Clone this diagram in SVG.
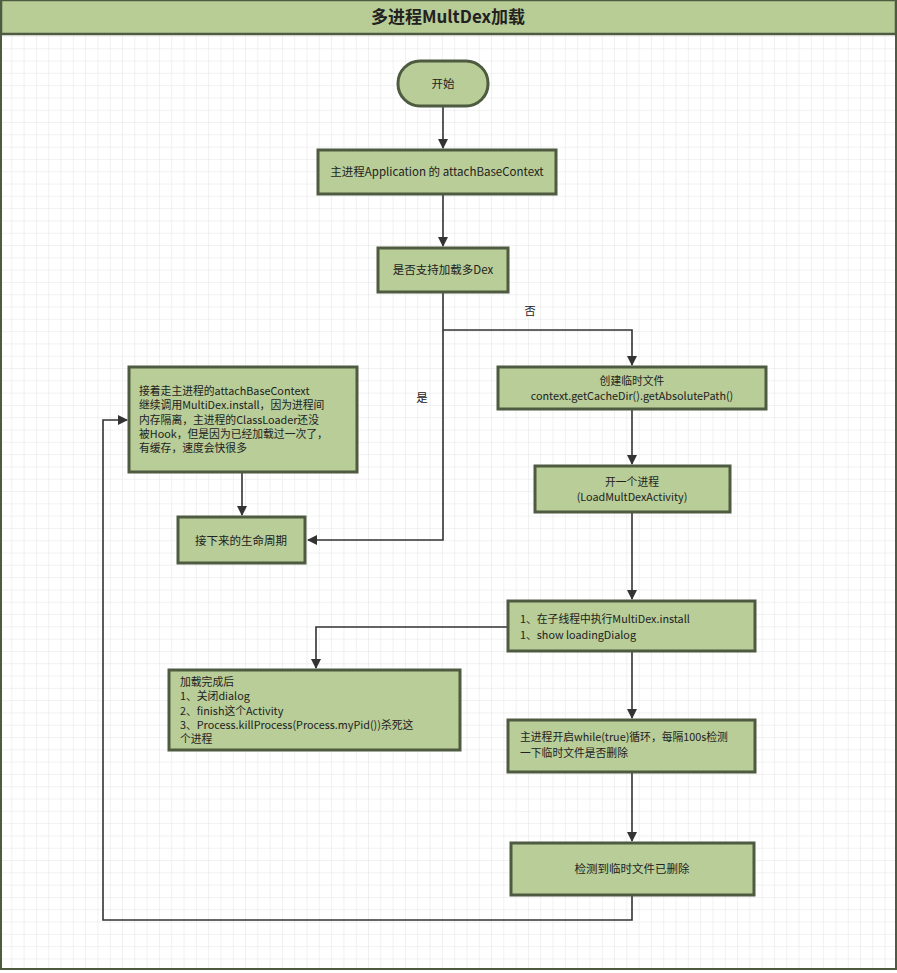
<svg xmlns="http://www.w3.org/2000/svg" width="897" height="973" viewBox="0 0 897 973">
<style>
.n{fill:#b8cd97;stroke:#4e5b40;stroke-width:3}
.t{font-family:"Noto Sans CJK SC",sans-serif;font-size:11.5px;fill:#222}
.m{font-size:10.8px}
.c{text-anchor:middle}
.e{fill:none;stroke:#333;stroke-width:1.6}
</style>
<defs>
<pattern id="g" width="12.3" height="12.3" patternUnits="userSpaceOnUse"><path d="M12.3 0V12.3H0" fill="none" stroke="#e3e3e3" stroke-width="1"/></pattern>
<marker id="a" markerWidth="10" markerHeight="10" refX="9" refY="5" orient="auto" markerUnits="userSpaceOnUse"><path d="M0 0L10 5L0 10z" fill="#333"/></marker>
</defs>
<rect width="897" height="973" fill="#fff"/>
<rect x="0" y="34" width="897" height="936" fill="url(#g)"/>
<rect x="1" y="1" width="895" height="968" fill="none" stroke="#4e5b40" stroke-width="2"/>
<g id="title"><rect x="1" y="0" width="895" height="34" fill="#b8cc96" stroke="#4e5b40" stroke-width="2.5"/><text x="448" y="23" class="t c" style="font-size:17px;font-weight:bold">多进程MultDex加载</text></g>
<g id="edges">
<path class="e" d="M443 106V148" marker-end="url(#a)"/>
<path class="e" d="M443 194V246" marker-end="url(#a)"/>
<path class="e" d="M443 292V540H308" marker-end="url(#a)"/>
<path class="e" d="M443 330H632V365" marker-end="url(#a)"/>
<path class="e" d="M632 409V464" marker-end="url(#a)"/>
<path class="e" d="M632 512V599" marker-end="url(#a)"/>
<path class="e" d="M508 627H316V668" marker-end="url(#a)"/>
<path class="e" d="M632 651V718" marker-end="url(#a)"/>
<path class="e" d="M632 772V841" marker-end="url(#a)"/>
<path class="e" d="M632 895V920H103V420H127" marker-end="url(#a)"/>
<path class="e" d="M242 472V515" marker-end="url(#a)"/>
<text x="530" y="315" class="t c">否</text>
<text x="422" y="402" class="t c">是</text>
</g>
<g id="start"><rect x="398" y="61" width="90" height="45" rx="22" class="n"/><text x="443" y="88" class="t c">开始</text></g>
<g id="app"><rect x="318" y="150" width="238" height="44" class="n"/><text x="437" y="176" class="t c">主进程Application 的 attachBaseContext</text></g>
<g id="support"><rect x="378" y="248" width="130" height="44" class="n"/><text x="443" y="274" class="t c">是否支持加载多Dex</text></g>
<g id="tmp"><rect x="498" y="367" width="268" height="42" class="n"/><text x="632" y="385" class="t c m">创建临时文件</text><text x="632" y="400" class="t c m">context.getCacheDir().getAbsolutePath()</text></g>
<g id="proc"><rect x="535" y="466" width="195" height="46" class="n"/><text x="632" y="486" class="t c m">开一个进程</text><text x="632" y="501" class="t c m">(LoadMultDexActivity)</text></g>
<g id="child"><rect x="508" y="601" width="247" height="50" class="n"/><text x="520" y="623" class="t m">1、在子线程中执行MultiDex.install</text><text x="520" y="639" class="t m">1、show loadingDialog</text></g>
<g id="done"><rect x="169" y="670" width="291" height="80" class="n"/><text class="t m"><tspan x="180" y="686">加载完成后</tspan><tspan x="180" y="700">1、关闭dialog</tspan><tspan x="180" y="715">2、finish这个Activity</tspan><tspan x="180" y="729">3、Process.killProcess(Process.myPid())杀死这</tspan><tspan x="180" y="743">个进程</tspan></text></g>
<g id="loop"><rect x="508" y="720" width="247" height="52" class="n"/><text x="520" y="741" class="t m">主进程开启while(true)循环，每隔100s检测</text><text x="520" y="757" class="t m">一下临时文件是否删除</text></g>
<g id="deleted"><rect x="511" y="843" width="243" height="52" class="n"/><text x="632" y="873" class="t c">检测到临时文件已删除</text></g>
<g id="cont"><rect x="129" y="367" width="228" height="105" class="n"/><text class="t m"><tspan x="139" y="395">接着走主进程的attachBaseContext</tspan><tspan x="139" y="409">继续调用MultiDex.install，因为进程间</tspan><tspan x="139" y="424">内存隔离，主进程的ClassLoader还没</tspan><tspan x="139" y="438">被Hook，但是因为已经加载过一次了，</tspan><tspan x="139" y="452">有缓存，速度会快很多</tspan></text></g>
<g id="life"><rect x="178" y="517" width="127" height="46" class="n"/><text x="241" y="545" class="t c">接下来的生命周期</text></g>
</svg>
